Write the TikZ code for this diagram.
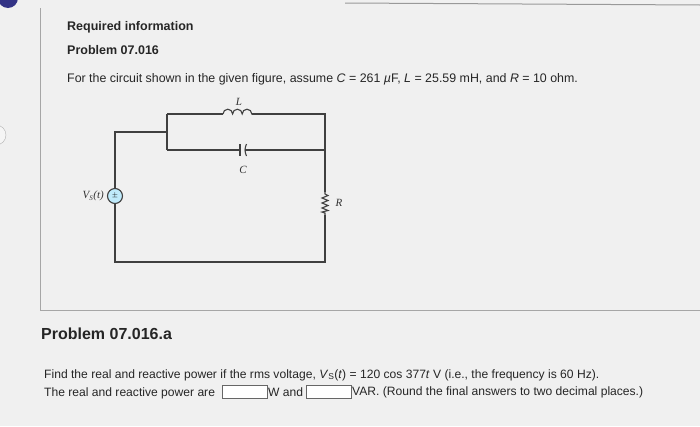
\documentclass[tikz,border=0pt]{standalone}
\usepackage{fontspec}
\setmainfont{Liberation Sans}
\newfontfamily\serifx{Liberation Serif}
\begin{document}
\begin{tikzpicture}[x=1pt,y=-1pt,
  wire/.style={draw=black!75,line width=1.1pt},
  txt/.style={anchor=base west,inner sep=0pt,font=\fontsize{12.4}{14}\selectfont,text=black!85},
  hdr/.style={txt,font=\fontsize{12.5}{14}\selectfont\bfseries},
  sml/.style={txt,font=\fontsize{12.1}{14}\selectfont},
  lbl/.style={inner sep=0pt,font=\serifx\itshape\fontsize{11}{12}\selectfont,text=black!80},
  ansbox/.style={draw=black!60,fill=white,minimum width=45pt,minimum height=13pt,inner sep=0pt}]
\fill[black!6] (0,0) rectangle (700,426);
\useasboundingbox (0,0) rectangle (700,426);
% panel frame
\draw[black!35,line width=1pt] (40,8) -- (40,310) -- (700,310);
\draw[black!40,line width=1pt] (345,3) -- (700,5);
\fill[blue!40!black!80] (8,-2) circle (10);
\draw[black!30,fill=black!4] (-4,135) circle (10);
% text
\node[hdr] (t1) at (67,30) {Required information};
\node[hdr] (t2) at (67,54) {Problem 07.016};
\node[txt] (t3) at (67,82) {For the circuit shown in the given figure, assume \textit{C} = 261 \textit{µ}F, \textit{L} = 25.59 mH, and \textit{R} = 10 ohm.};
\node[hdr,font=\fontsize{16}{18}\selectfont\bfseries] (t4) at (41,339) {Problem 07.016.a};
\node[sml] (t5) at (44,378) {Find the real and reactive power if the rms voltage, \textit{V}\textsubscript{S}(\textit{t}) = 120 cos 377\textit{t} V (i.e., the frequency is 60 Hz).};
\node[sml] (t6) at (44,396) {The real and reactive power are};
\node[ansbox,anchor=west] (b1) at (222,392) {};
\node[sml,anchor=west] (t7) at (268,392) {W and};
\node[ansbox,anchor=west] (b2) at (306,392) {};
\node[sml,anchor=west] (t8) at (352,392) {VAR. (Round the final answers to two decimal places.)};
% circuit coordinates
\coordinate (a) at (115,132);
\coordinate (b) at (167,132);
\coordinate (tl) at (167,114);
\coordinate (bl) at (167,150);
\coordinate (tr) at (325,114);
\coordinate (br) at (325,150);
\coordinate (rt) at (325,192);
\coordinate (rb) at (325,215);
\coordinate (cr) at (325,262);
\coordinate (cl) at (115,262);
\coordinate (l1) at (223,114);
\coordinate (l2) at (252,114);
\coordinate (c1) at (240,150);
\coordinate (c2) at (245,150);
\node[circle,draw=black!75,line width=1.1pt,fill=cyan!25,minimum size=15pt,inner sep=0pt,font=\fontsize{7}{7}\selectfont] (src) at (115,196) {$\pm$};
\draw[wire] (src.north) -- (a) -- (b);
\draw[wire] (tl) -- (bl);
\draw[wire] (tl) -- (l1);
\draw[wire] (l1) arc[start angle=180,end angle=360,radius=4.8] arc[start angle=180,end angle=360,radius=4.8] arc[start angle=180,end angle=360,radius=4.8] -- (l2);
\draw[wire] (l2) -- (tr) -- (rt);
\draw[wire] (bl) -- (c1);
\draw[wire] (240,144) -- (240,156);
\draw[wire] (246.5,144) to[bend right=25] (246.5,156);
\draw[wire] (c2) -- (br);
\draw[wire] (rt) -- (325,194) -- (328,195.5) -- (322,198) -- (328,200.5) -- (322,203) -- (328,205.5) -- (322,208) -- (328,210.5) -- (322,212) -- (325,213) -- (rb);
\draw[wire] (rb) -- (cr) -- (cl) -- (src.south);
\node[lbl] (lL) at (239,102) {L};
\node[lbl] (lC) at (243,170) {C};
\node[lbl] (lR) at (339,203) {R};
\node[lbl,anchor=east] (lV) at (104,196) {V\textsubscript{\fontsize{7}{7}\selectfont S}(t)};
\end{tikzpicture}
\end{document}
